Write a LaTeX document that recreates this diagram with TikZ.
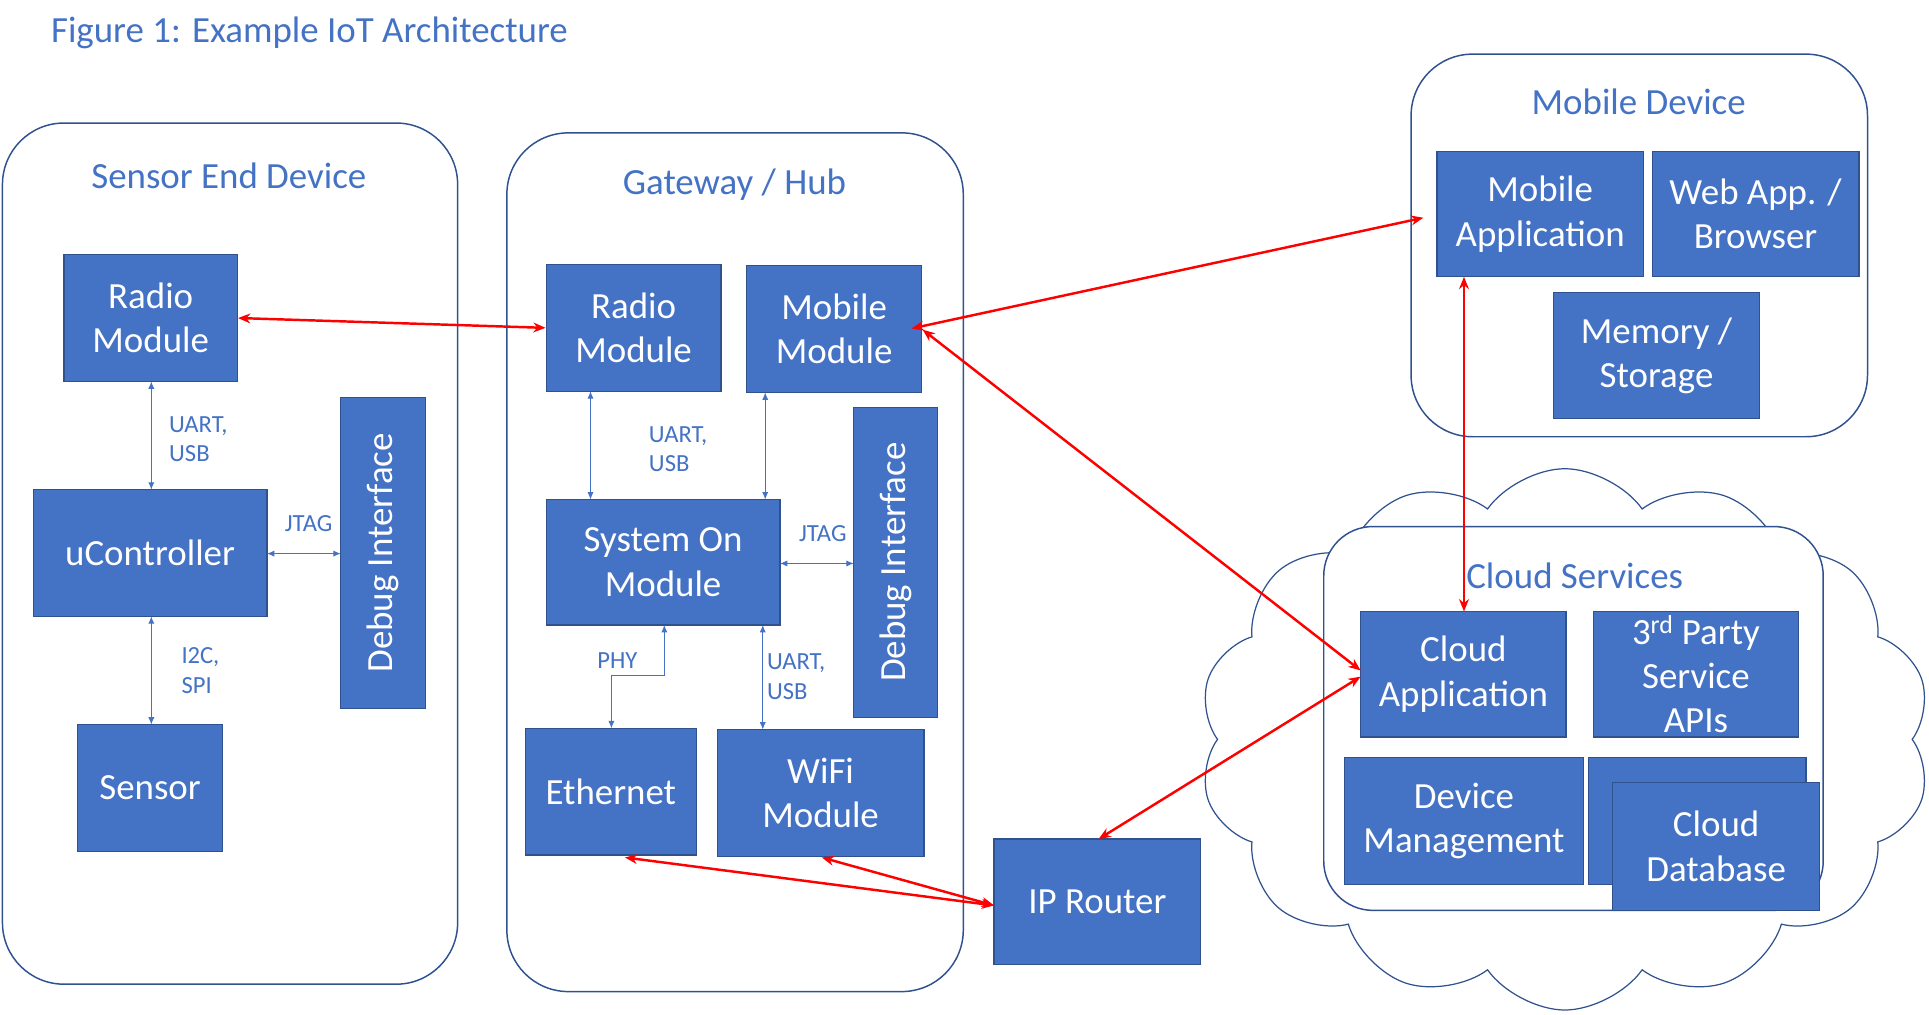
\documentclass[tikz,border=0pt]{standalone}
\usepackage{fontspec}
\setmainfont{Carlito}
\usetikzlibrary{shapes.symbols,arrows.meta}
\definecolor{bb}{RGB}{68,114,196}
\definecolor{bd}{RGB}{47,82,143}
\begin{document}
\begin{tikzpicture}[x=1pt,y=-1pt,
 box/.style={draw=bd,line width=1pt,fill=bb,text=white,align=center,font=\fontsize{30}{36}\selectfont,inner sep=0pt},
 cont/.style={draw=bd,line width=1.2pt,rounded corners=50pt,fill=white},
 ttl/.style={text=bb,font=\fontsize{30}{36}\selectfont},
 lbl/.style={text=bb,font=\fontsize{20}{24}\selectfont,align=left,anchor=west},
 sa/.style={draw=bb,line width=0.8pt,{Latex[length=6pt,width=5pt]}-{Latex[length=6pt,width=5pt]}},
 ra/.style={draw=red,line width=2pt,{Stealth[length=10pt,width=8pt]}-{Stealth[length=10pt,width=8pt]}}]
\useasboundingbox (0,0) rectangle (1568,825);
\node[ttl,anchor=west] (title) at (38,27) {Figure 1: Example IoT Architecture};
% Sensor end device
\draw[cont] (2,100) rectangle (372,800);
\node[ttl] (t1) at (186,143) {Sensor End Device};
\node[box,minimum width=141pt,minimum height=103pt] (sr) at (122.5,258.5) {Radio\\Module};
\node[box,minimum width=190pt,minimum height=103pt] (su) at (122,449.5) {uController};
\node[box,minimum width=118pt,minimum height=103pt] (ss) at (122,640.5) {Sensor};
\node[box,minimum width=253pt,minimum height=69pt,rotate=90] (sd) at (311.5,449.5) {Debug Interface};
\draw[sa] (123,310) -- (123,398);
\draw[sa] (123,501) -- (123,589);
\draw[sa] (217,450) -- (277,450);
\node[lbl] (l1) at (134,357) {UART,\\USB};
\node[lbl] (l2) at (144,545) {I2C,\\SPI};
\node[lbl] (l3) at (228,426) {JTAG};
% Gateway
\draw[cont] (412,108) rectangle (783,806);
\node[ttl] (t2) at (597,150) {Gateway / Hub};
\node[box,minimum width=142pt,minimum height=103pt] (gr) at (515,266.5) {Radio\\Module};
\node[box,minimum width=142pt,minimum height=103pt] (gm) at (678,267.5) {Mobile\\Module};
\node[box,minimum width=190pt,minimum height=102pt] (gs) at (539,457) {System On\\Module};
\node[box,minimum width=252pt,minimum height=68pt,rotate=90] (gd) at (728,457) {Debug Interface};
\node[box,minimum width=139pt,minimum height=103pt] (ge) at (496.5,643.5) {Ethernet};
\node[box,minimum width=168pt,minimum height=103pt] (gw) at (667,644.5) {WiFi\\Module};
\draw[sa] (480,318) -- (480,406);
\draw[sa] (622,319) -- (622,406);
\draw[sa] (634,458) -- (694,458);
\draw[sa] (540,508) -- (540,549) -- (497,549) -- (497,592);
\draw[sa] (620,508) -- (620,593);
\node[lbl] (l4) at (524,365) {UART,\\USB};
\node[lbl] (l5) at (646,434) {JTAG};
\node[lbl] (l6) at (482,537) {PHY};
\node[lbl] (l7) at (620,550) {UART,\\USB};
% IP router
\node[box,minimum width=168pt,minimum height=102pt] (ip) at (892,733) {IP Router};
% Mobile device
\draw[cont] (1147,44) rectangle (1518,355);
\node[ttl] (t3) at (1332,83) {Mobile Device};
\node[box,minimum width=168pt,minimum height=102pt] (ma) at (1252,174) {Mobile\\Application};
\node[box,minimum width=168pt,minimum height=102pt] (mw) at (1427,174) {Web App. /\\Browser};
\node[box,minimum width=167pt,minimum height=102pt] (mm) at (1346.5,289) {Memory /\\Storage};
% Cloud
\node[cloud,cloud puffs=14,cloud puff arc=110,aspect=1.3,draw=bd,line width=1pt,fill=white,minimum width=595pt,minimum height=440pt] (cl) at (1272,601) {};
\draw[cont,rounded corners=40pt] (1076,428) rectangle (1482,740);
\node[ttl] (t4) at (1280,468) {Cloud Services};
\node[box,minimum width=167pt,minimum height=102pt] (ca) at (1189.5,548) {Cloud\\Application};
\node[box,minimum width=167pt,minimum height=102pt] (c3) at (1378.5,548) {3\textsuperscript{rd} Party\\Service\\APIs};
\node[box,minimum width=194pt,minimum height=103pt] (cdm) at (1190,667.5) {Device\\Management};
\node[box,minimum width=177pt,minimum height=103pt] (cdb0) at (1379.5,667.5) {};
\node[box,minimum width=168pt,minimum height=104pt] (cdb) at (1395,688) {Cloud\\Database};
% red arrows
\draw[ra] (sr.east) -- (gr.west);
\draw[ra] (741,267) -- (1157,177);
\draw[ra] (750,268) -- (1106,545);
\draw[ra] (1190,225) -- (1190,497);
\draw[ra] (1106,550) -- (893,682);
\draw[ra] (508,697) -- (808,736);
\draw[ra] (668,697) -- (808,736);
\end{tikzpicture}
\end{document}
